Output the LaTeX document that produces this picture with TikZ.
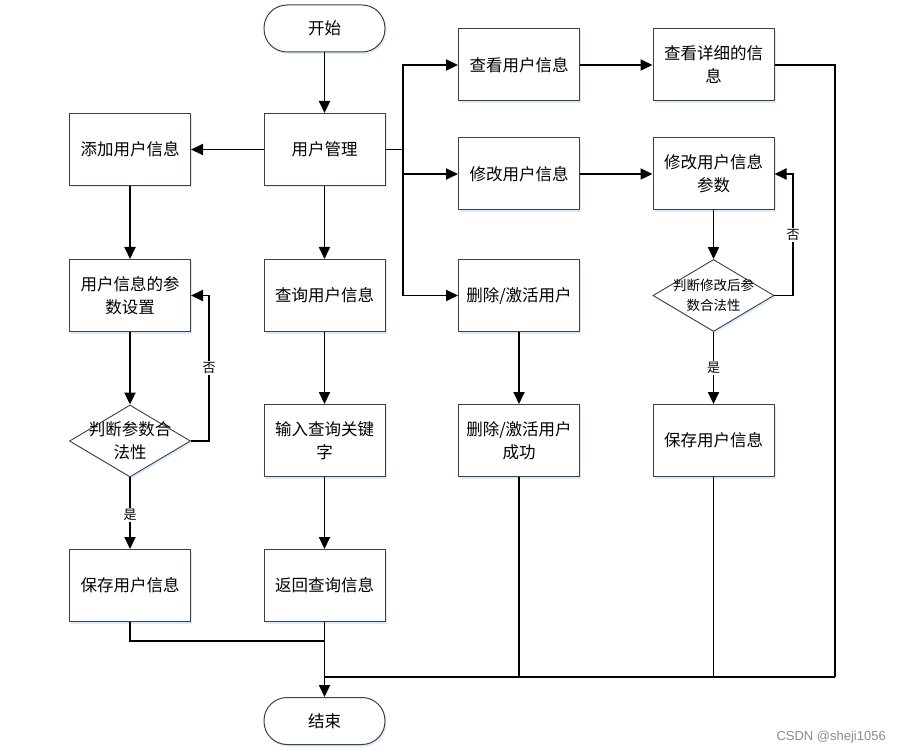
\documentclass[tikz,border=0pt]{standalone}
\usepackage{fontspec}
\newfontfamily\cjk{Noto Sans CJK SC}
\setsansfont{Liberation Sans}
\usetikzlibrary{shapes.geometric,arrows.meta,shadows}
\begin{document}
\begin{tikzpicture}[x=1pt,y=-1pt,
  shad/.style={drop shadow={shadow xshift=1.5pt, shadow yshift=-2pt, fill=blue!50!cyan, opacity=0.15}},
  box/.style={draw=black!75, fill=white, line width=1pt, minimum width=121pt, minimum height=72pt, inner sep=2pt, align=center, font=\cjk\fontsize{16.5}{23}\selectfont, shad},
  term/.style={box, rounded corners=23pt, minimum height=47pt},
  dia/.style={diamond, draw=black!75, fill=white, line width=0.9pt, minimum width=121pt, minimum height=72pt, inner sep=0pt, shad},
  dtxt/.style={align=center, inner sep=0pt, font=\cjk\fontsize{16.5}{23}\selectfont},
  dtxtsmall/.style={align=center, inner sep=0pt, font=\cjk\fontsize{13.5}{20}\selectfont},
  arr/.style={line width=1.9pt, -{Triangle[length=12pt,width=11pt]}},
  ln/.style={line width=1.4pt},
  lnthick/.style={line width=2pt},
  lbl/.style={fill=white, font=\cjk\fontsize{13}{13}\selectfont, inner sep=1.5pt}
]
\useasboundingbox (0,0) rectangle (900,754);

% nodes
\node[term] (start) at (324.5,28.5) {开始};
\node[box] (um) at (324.5,149.5) {用户管理};
\node[box] (add) at (130,149.5) {添加用户信息};
\node[box] (set) at (130,295.5) {用户信息的参\\数设置};
\node[dia] (d1) at (130,441) {};
\node[dtxt] (d1t) at (d1) {判断参数合\\法性};
\node[box] (save1) at (130,585.5) {保存用户信息};
\node[box] (q) at (324.5,295.5) {查询用户信息};
\node[box] (in) at (324.5,440.5) {输入查询关键\\字};
\node[box] (ret) at (324.5,585.5) {返回查询信息};
\node[term] (end) at (324.5,721) {结束};
\node[box] (view) at (519,65) {查看用户信息};
\node[box] (mod) at (519,174) {修改用户信息};
\node[box] (del) at (519,295.5) {删除/激活用户};
\node[box] (delok) at (519,440.5) {删除/激活用户\\成功};
\node[box] (det) at (713.5,65) {查看详细的信\\息};
\node[box] (modp) at (713.5,174) {修改用户信息\\参数};
\node[dia] (d2) at (713.5,295.5) {};
\node[dtxtsmall] (d2t) at (d2) {判断修改后参\\数合法性};
\node[box] (save2) at (713.5,440.5) {保存用户信息};

% helper coordinates
\coordinate (bus) at (403,149.5);
\coordinate (l1) at (209,441);
\coordinate (r1) at (793,295.5);
\coordinate (lj) at (324.5,641);
\coordinate (mj) at (324.5,677);
\coordinate (rb) at (835,677);

% connectors
\draw[arr] (start.south) -- (um.north);
\draw[arr] (um.west) -- (add.east);
\draw[arr] (um.south) -- (q.north);
\draw[arr] (q.south) -- (in.north);
\draw[arr] (in.south) -- (ret.north);
\draw[arr] (ret.south) -- (end.north);

\draw[arr] (um.east) -- (bus) |- (view.west);
\draw[arr] (um.east) -- (bus) |- (mod.west);
\draw[arr] (um.east) -- (bus) |- (del.west);

\draw[arr] (view.east) -- (det.west);
\draw[arr] (mod.east) -- (modp.west);
\draw[arr] (modp.south) -- (d2.north);
\draw[arr] (d2.east) -- (r1) |- (modp.east);
\node[lbl] (no2) at (793,235) {否};
\draw[arr] (d2.south) -- (save2.north);
\node[lbl] (yes2) at (713.5,368) {是};
\draw[arr] (del.south) -- (delok.north);

\draw[arr] (add.south) -- (set.north);
\draw[arr] (set.south) -- (d1.north);
\draw[arr] (d1.east) -- (l1) |- (set.east);
\node[lbl] (no1) at (209,368) {否};
\draw[arr] (d1.south) -- (save1.north);
\node[lbl] (yes1) at (130,515) {是};

% merging lines
\draw[ln] (save1.south) |- (lj);
\draw[ln] (det.east) -| (rb);
\draw[lnthick] (rb) -- (mj);
\draw[ln] (delok.south) -- (delok.south |- mj);
\draw[ln] (save2.south) -- (save2.south |- mj);

% watermark
\node[font=\sffamily\fontsize{13}{13}\selectfont, text=black!45, anchor=east, inner sep=0pt] (wm) at (886,737) {CSDN @sheji1056};
\end{tikzpicture}
\end{document}
